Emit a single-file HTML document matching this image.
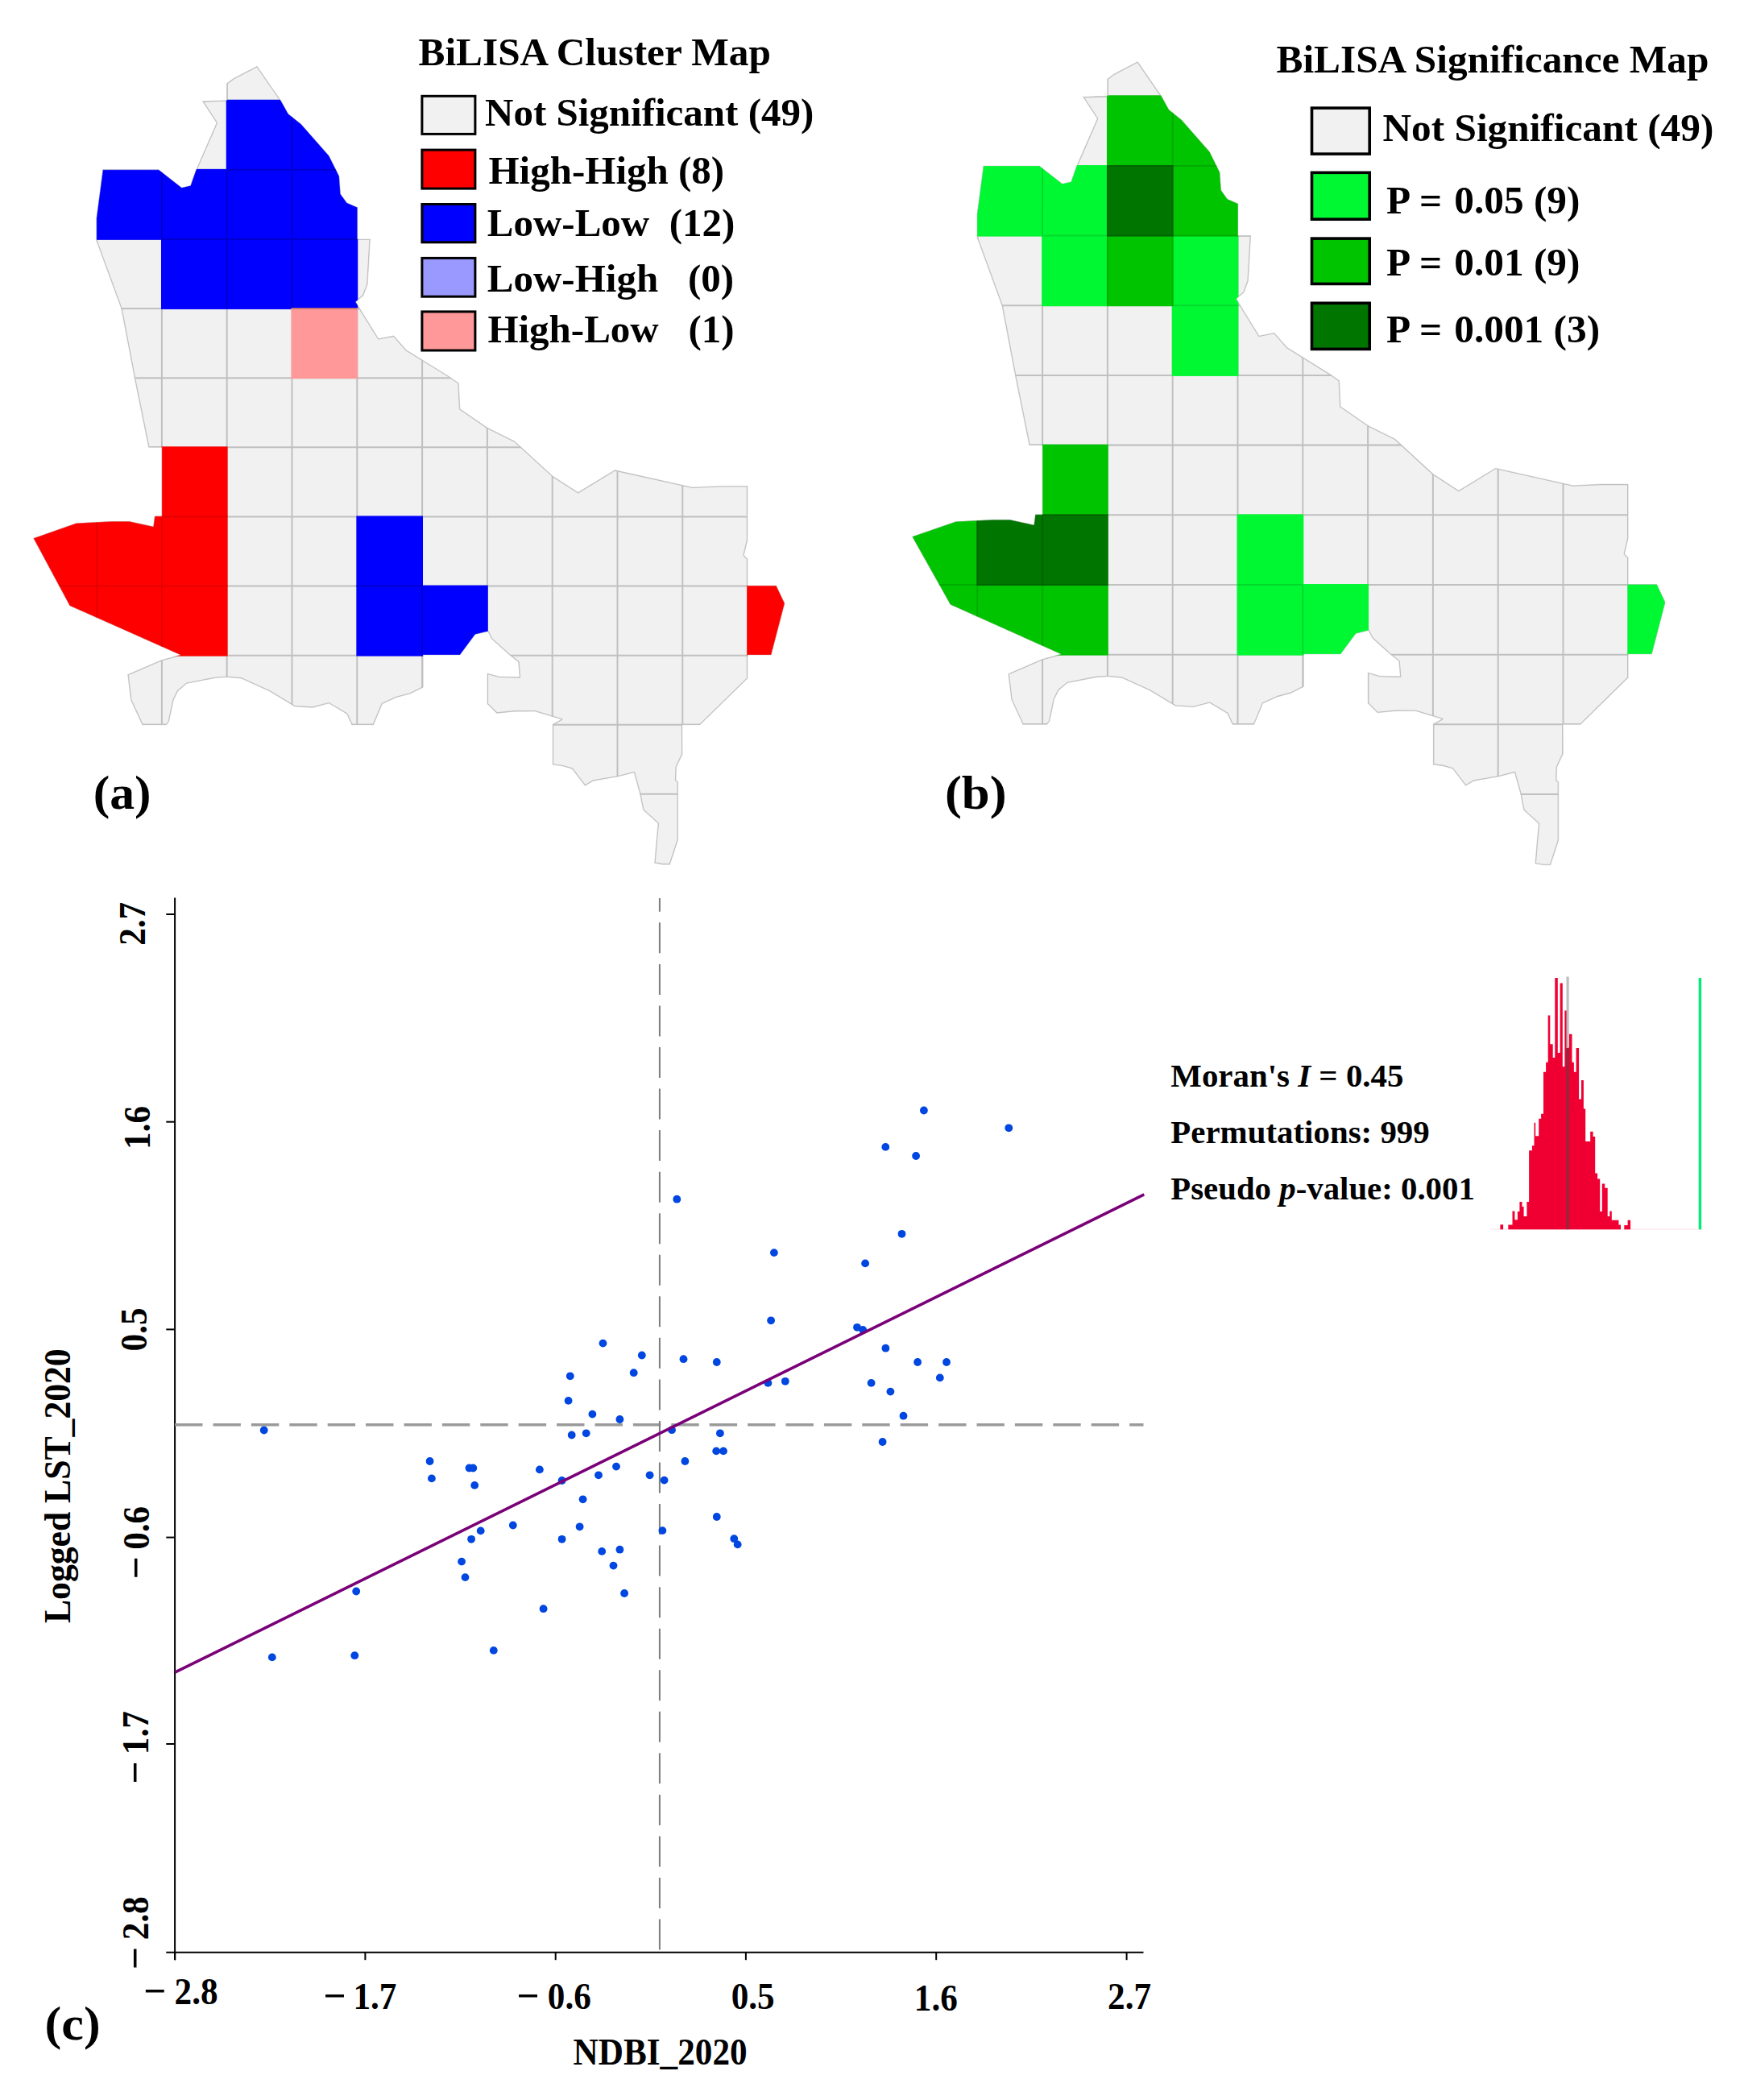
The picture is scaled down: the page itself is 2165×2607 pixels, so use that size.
<!DOCTYPE html>
<html lang="en">
<head>
<meta charset="utf-8">
<title>BiLISA cluster map, significance map and Moran scatter plot</title>
<style>
html,body{margin:0;padding:0;background:#fff;}
body{width:2165px;height:2607px;overflow:hidden;}
svg{display:block;}
svg text{font-family:"Liberation Serif","Times New Roman",Times,serif;font-weight:bold;fill:#000;}
</style>
</head>
<body>
<svg width="2165" height="2607" viewBox="0 0 2165 2607">
<defs><clipPath id="clipA"><path d="M319.1,82.2 L348.5,124.7 L357.9,141.5 L373.7,154.1 L408.4,193.5 L421.0,218.7 L422.6,240.8 L430.5,251.8 L443.7,257.5 L443.7,296.9 L459.5,296.9 L456.3,352.7 L451.0,366.9 L441.5,374.8 L469.9,420.5 L488.8,416.8 L504.6,434.7 L558.3,467.9 L569.4,475.7 L571.0,507.6 L605.0,531.0 L638.8,547.8 L686.1,591.0 L717.6,611.3 L763.3,583.6 L859.5,605.0 L894.2,603.4 L927.9,603.4 L927.9,670.3 L923.5,689.2 L927.9,693.9 L927.9,727.1 L963.6,727.1 L974.0,749.1 L957.3,813.1 L927.9,813.1 L927.9,842.2 L869.0,899.8 L846.9,899.8 L847.1,936.3 L839.6,952.3 L839.0,968.4 L841.6,970.4 L841.6,1042.7 L831.6,1073.2 L822.6,1073.2 L812.6,1071.4 L815.0,1042.7 L817.0,1022.2 L798.5,1005.5 L796.1,994.5 L794.5,985.5 L787.1,959.0 L767.4,964.0 L736.3,969.4 L726.3,975.4 L710.2,954.4 L698.7,951.0 L686.1,949.3 L686.1,899.2 L697.2,893.1 L664.0,883.1 L638.8,883.2 L616.7,885.4 L605.0,873.7 L605.0,835.9 L619.8,840.0 L645.1,840.6 L643.5,821.7 L632.5,813.1 L610.4,793.3 L605.6,783.8 L589.9,787.6 L571.0,813.1 L525.2,813.1 L525.2,853.2 L509.5,861.1 L492.0,865.8 L474.6,873.7 L463.6,899.8 L436.8,899.8 L430.5,886.3 L408.4,873.1 L387.9,878.4 L365.8,876.9 L334.3,857.9 L299.6,842.2 L281.6,840.6 L268.0,841.5 L231.8,848.5 L220.8,857.9 L215.4,869.0 L209.7,895.8 L206.6,899.8 L176.6,899.8 L162.4,869.0 L158.6,837.4 L200.3,819.5 L223.9,813.1 L86.6,751.9 L41.6,668.2 L94.7,649.6 L138.8,647.3 L160.6,647.3 L190.4,653.8 L192.1,640.8 L200.9,640.8 L200.9,555.2 L184.5,555.2 L167.1,469.4 L150.7,383.3 L119.8,299.1 L119.8,270.8 L127.7,210.8 L197.1,210.8 L225.5,232.9 L236.5,230.4 L242.8,212.4 L269.0,152.5 L251.3,125.7 L281.6,124.7 L281.6,103.6 L290.1,97.3Z"/></clipPath><clipPath id="clipB"><path d="M319.1,82.2 L348.5,124.7 L357.9,141.5 L373.7,154.1 L408.4,193.5 L421.0,218.7 L422.6,240.8 L430.5,251.8 L443.7,257.5 L443.7,296.9 L459.5,296.9 L456.3,352.7 L451.0,366.9 L441.5,374.8 L469.9,420.5 L488.8,416.8 L504.6,434.7 L558.3,467.9 L569.4,475.7 L571.0,507.6 L605.0,531.0 L638.8,547.8 L686.1,591.0 L717.6,611.3 L763.3,583.6 L859.5,605.0 L894.2,603.4 L927.9,603.4 L927.9,670.3 L923.5,689.2 L927.9,693.9 L927.9,727.1 L963.6,727.1 L974.0,749.1 L957.3,813.1 L927.9,813.1 L927.9,842.2 L869.0,899.8 L846.9,899.8 L847.1,936.3 L839.6,952.3 L839.0,968.4 L841.6,970.4 L841.6,1042.7 L831.6,1073.2 L822.6,1073.2 L812.6,1071.4 L815.0,1042.7 L817.0,1022.2 L798.5,1005.5 L796.1,994.5 L794.5,985.5 L787.1,959.0 L767.4,964.0 L736.3,969.4 L726.3,975.4 L710.2,954.4 L698.7,951.0 L686.1,949.3 L686.1,899.2 L697.2,893.1 L664.0,883.1 L638.8,883.2 L616.7,885.4 L605.0,873.7 L605.0,835.9 L619.8,840.0 L645.1,840.6 L643.5,821.7 L632.5,813.1 L610.4,793.3 L605.6,783.8 L589.9,787.6 L571.0,813.1 L525.2,813.1 L525.2,853.2 L509.5,861.1 L492.0,865.8 L474.6,873.7 L463.6,899.8 L436.8,899.8 L430.5,886.3 L408.4,873.1 L387.9,878.4 L365.8,876.9 L334.3,857.9 L299.6,842.2 L281.6,840.6 L268.0,841.5 L231.8,848.5 L220.8,857.9 L215.4,869.0 L209.7,895.8 L206.6,899.8 L176.6,899.8 L162.4,869.0 L158.6,837.4 L200.3,819.5 L223.9,813.1 L86.6,751.9 L39.3,668.2 L93.5,649.6 L138.8,647.3 L160.6,647.3 L190.4,653.8 L192.1,640.8 L200.9,640.8 L200.9,555.2 L184.5,555.2 L167.1,469.4 L150.7,383.3 L119.8,299.1 L119.8,270.8 L127.7,210.8 L197.1,210.8 L225.5,232.9 L236.5,230.4 L242.8,212.4 L269.0,152.5 L251.3,125.7 L281.6,124.7 L281.6,103.6 L290.1,97.3Z"/></clipPath></defs>
<rect width="2165" height="2607" fill="#fff"/>
<g transform="translate(0,0)">
<g clip-path="url(#clipA)">
<rect x="30" y="60" width="960" height="1030" fill="#f1f1f1"/>
<path d="M120.10,60V1090M200.90,60V1090M281.70,60V1090M362.50,60V1090M443.30,60V1090M524.10,60V1090M604.90,60V1090M685.70,60V1090M766.50,60V1090M847.30,60V1090M928.10,60V1090M30,124.67H990M30,210.79H990M30,296.91H990M30,383.03H990M30,469.15H990M30,555.27H990M30,641.39H990M30,727.51H990M30,813.63H990M30,899.75H990M30,985.87H990" fill="none" stroke="#c0c0c0" stroke-width="2.0"/>
<path d="M319.1,82.2 L348.5,124.7 L357.9,141.5 L373.7,154.1 L408.4,193.5 L421.0,218.7 L422.6,240.8 L430.5,251.8 L443.7,257.5 L443.7,296.9 L459.5,296.9 L456.3,352.7 L451.0,366.9 L441.5,374.8 L469.9,420.5 L488.8,416.8 L504.6,434.7 L558.3,467.9 L569.4,475.7 L571.0,507.6 L605.0,531.0 L638.8,547.8 L686.1,591.0 L717.6,611.3 L763.3,583.6 L859.5,605.0 L894.2,603.4 L927.9,603.4 L927.9,670.3 L923.5,689.2 L927.9,693.9 L927.9,727.1 L963.6,727.1 L974.0,749.1 L957.3,813.1 L927.9,813.1 L927.9,842.2 L869.0,899.8 L846.9,899.8 L847.1,936.3 L839.6,952.3 L839.0,968.4 L841.6,970.4 L841.6,1042.7 L831.6,1073.2 L822.6,1073.2 L812.6,1071.4 L815.0,1042.7 L817.0,1022.2 L798.5,1005.5 L796.1,994.5 L794.5,985.5 L787.1,959.0 L767.4,964.0 L736.3,969.4 L726.3,975.4 L710.2,954.4 L698.7,951.0 L686.1,949.3 L686.1,899.2 L697.2,893.1 L664.0,883.1 L638.8,883.2 L616.7,885.4 L605.0,873.7 L605.0,835.9 L619.8,840.0 L645.1,840.6 L643.5,821.7 L632.5,813.1 L610.4,793.3 L605.6,783.8 L589.9,787.6 L571.0,813.1 L525.2,813.1 L525.2,853.2 L509.5,861.1 L492.0,865.8 L474.6,873.7 L463.6,899.8 L436.8,899.8 L430.5,886.3 L408.4,873.1 L387.9,878.4 L365.8,876.9 L334.3,857.9 L299.6,842.2 L281.6,840.6 L268.0,841.5 L231.8,848.5 L220.8,857.9 L215.4,869.0 L209.7,895.8 L206.6,899.8 L176.6,899.8 L162.4,869.0 L158.6,837.4 L200.3,819.5 L223.9,813.1 L86.6,751.9 L41.6,668.2 L94.7,649.6 L138.8,647.3 L160.6,647.3 L190.4,653.8 L192.1,640.8 L200.9,640.8 L200.9,555.2 L184.5,555.2 L167.1,469.4 L150.7,383.3 L119.8,299.1 L119.8,270.8 L127.7,210.8 L197.1,210.8 L225.5,232.9 L236.5,230.4 L242.8,212.4 L269.0,152.5 L251.3,125.7 L281.6,124.7 L281.6,103.6 L290.1,97.3Z" fill="none" stroke="#c0c0c0" stroke-width="2.2" stroke-linejoin="round"/>
<rect x="280.80" y="123.77" width="82.60" height="87.92" fill="#0000ff"/><rect x="361.60" y="123.77" width="82.60" height="87.92" fill="#0000ff"/><rect x="119.20" y="209.89" width="82.60" height="87.92" fill="#0000ff"/><rect x="200.00" y="209.89" width="82.60" height="87.92" fill="#0000ff"/><rect x="280.80" y="209.89" width="82.60" height="87.92" fill="#0000ff"/><rect x="361.60" y="209.89" width="82.60" height="87.92" fill="#0000ff"/><rect x="200.00" y="296.01" width="82.60" height="87.92" fill="#0000ff"/><rect x="280.80" y="296.01" width="82.60" height="87.92" fill="#0000ff"/><rect x="361.60" y="296.01" width="82.60" height="87.92" fill="#0000ff"/><rect x="442.40" y="640.49" width="82.60" height="87.92" fill="#0000ff"/><rect x="442.40" y="726.61" width="82.60" height="87.92" fill="#0000ff"/><rect x="523.20" y="726.61" width="82.60" height="87.92" fill="#0000ff"/><rect x="361.60" y="382.13" width="82.60" height="87.92" fill="#ff9999"/><rect x="200.00" y="554.37" width="82.60" height="87.92" fill="#ff0000"/><rect x="38.40" y="640.49" width="82.60" height="87.92" fill="#ff0000"/><rect x="119.20" y="640.49" width="82.60" height="87.92" fill="#ff0000"/><rect x="200.00" y="640.49" width="82.60" height="87.92" fill="#ff0000"/><rect x="38.40" y="726.61" width="82.60" height="87.92" fill="#ff0000"/><rect x="119.20" y="726.61" width="82.60" height="87.92" fill="#ff0000"/><rect x="200.00" y="726.61" width="82.60" height="87.92" fill="#ff0000"/><rect x="927.20" y="726.61" width="82.60" height="87.92" fill="#ff0000"/>
<path d="M362.50,124.67V210.79M281.70,210.79H362.50M362.50,210.79H443.30M200.90,210.79V296.91M281.70,210.79V296.91M200.90,296.91H281.70M362.50,210.79V296.91M281.70,296.91H362.50M362.50,296.91H443.30M281.70,296.91V383.03M362.50,296.91V383.03M362.50,383.03H443.30M443.30,727.51H524.10M524.10,727.51V813.63" fill="none" stroke="#000" stroke-opacity="0.2" stroke-width="2"/><path d="M200.90,641.39H281.70M120.10,641.39V727.51M39.30,727.51H120.10M200.90,641.39V727.51M120.10,727.51H200.90M200.90,727.51H281.70M120.10,727.51V813.63M200.90,727.51V813.63" fill="none" stroke="#000" stroke-opacity="0.1" stroke-width="2"/>
</g>
<path d="M319.1,82.2 L348.5,124.7 L357.9,141.5 L373.7,154.1 L408.4,193.5 L421.0,218.7 L422.6,240.8 L430.5,251.8 L443.7,257.5 L443.7,296.9 L459.5,296.9 L456.3,352.7 L451.0,366.9 L441.5,374.8 L469.9,420.5 L488.8,416.8 L504.6,434.7 L558.3,467.9 L569.4,475.7 L571.0,507.6 L605.0,531.0 L638.8,547.8 L686.1,591.0 L717.6,611.3 L763.3,583.6 L859.5,605.0 L894.2,603.4 L927.9,603.4 L927.9,670.3 L923.5,689.2 L927.9,693.9 L927.9,727.1 L963.6,727.1 L974.0,749.1 L957.3,813.1 L927.9,813.1 L927.9,842.2 L869.0,899.8 L846.9,899.8 L847.1,936.3 L839.6,952.3 L839.0,968.4 L841.6,970.4 L841.6,1042.7 L831.6,1073.2 L822.6,1073.2 L812.6,1071.4 L815.0,1042.7 L817.0,1022.2 L798.5,1005.5 L796.1,994.5 L794.5,985.5 L787.1,959.0 L767.4,964.0 L736.3,969.4 L726.3,975.4 L710.2,954.4 L698.7,951.0 L686.1,949.3 L686.1,899.2 L697.2,893.1 L664.0,883.1 L638.8,883.2 L616.7,885.4 L605.0,873.7 L605.0,835.9 L619.8,840.0 L645.1,840.6 L643.5,821.7 L632.5,813.1 L610.4,793.3 L605.6,783.8 L589.9,787.6 L571.0,813.1 L525.2,813.1 L525.2,853.2 L509.5,861.1 L492.0,865.8 L474.6,873.7 L463.6,899.8 L436.8,899.8 L430.5,886.3 L408.4,873.1 L387.9,878.4 L365.8,876.9 L334.3,857.9 L299.6,842.2 L281.6,840.6 L268.0,841.5 L231.8,848.5 L220.8,857.9 L215.4,869.0 L209.7,895.8 L206.6,899.8 L176.6,899.8 L162.4,869.0 L158.6,837.4 L200.3,819.5 L223.9,813.1 L86.6,751.9 L41.6,668.2 L94.7,649.6 L138.8,647.3 L160.6,647.3 L190.4,653.8 L192.1,640.8 L200.9,640.8 L200.9,555.2 L184.5,555.2 L167.1,469.4 L150.7,383.3 L119.8,299.1 L119.8,270.8 L127.7,210.8 L197.1,210.8 L225.5,232.9 L236.5,230.4 L242.8,212.4 L269.0,152.5 L251.3,125.7 L281.6,124.7 L281.6,103.6 L290.1,97.3Z" fill="none" stroke="#c0c0c0" stroke-opacity="0.45" stroke-width="0.9" stroke-linejoin="round"/>
</g>
<g transform="translate(1093.2,-6.2) scale(1,1.0064)">
<g clip-path="url(#clipB)">
<rect x="30" y="60" width="960" height="1030" fill="#f1f1f1"/>
<path d="M120.10,60V1090M200.90,60V1090M281.70,60V1090M362.50,60V1090M443.30,60V1090M524.10,60V1090M604.90,60V1090M685.70,60V1090M766.50,60V1090M847.30,60V1090M928.10,60V1090M30,124.67H990M30,210.79H990M30,296.91H990M30,383.03H990M30,469.15H990M30,555.27H990M30,641.39H990M30,727.51H990M30,813.63H990M30,899.75H990M30,985.87H990" fill="none" stroke="#c0c0c0" stroke-width="2.0"/>
<path d="M319.1,82.2 L348.5,124.7 L357.9,141.5 L373.7,154.1 L408.4,193.5 L421.0,218.7 L422.6,240.8 L430.5,251.8 L443.7,257.5 L443.7,296.9 L459.5,296.9 L456.3,352.7 L451.0,366.9 L441.5,374.8 L469.9,420.5 L488.8,416.8 L504.6,434.7 L558.3,467.9 L569.4,475.7 L571.0,507.6 L605.0,531.0 L638.8,547.8 L686.1,591.0 L717.6,611.3 L763.3,583.6 L859.5,605.0 L894.2,603.4 L927.9,603.4 L927.9,670.3 L923.5,689.2 L927.9,693.9 L927.9,727.1 L963.6,727.1 L974.0,749.1 L957.3,813.1 L927.9,813.1 L927.9,842.2 L869.0,899.8 L846.9,899.8 L847.1,936.3 L839.6,952.3 L839.0,968.4 L841.6,970.4 L841.6,1042.7 L831.6,1073.2 L822.6,1073.2 L812.6,1071.4 L815.0,1042.7 L817.0,1022.2 L798.5,1005.5 L796.1,994.5 L794.5,985.5 L787.1,959.0 L767.4,964.0 L736.3,969.4 L726.3,975.4 L710.2,954.4 L698.7,951.0 L686.1,949.3 L686.1,899.2 L697.2,893.1 L664.0,883.1 L638.8,883.2 L616.7,885.4 L605.0,873.7 L605.0,835.9 L619.8,840.0 L645.1,840.6 L643.5,821.7 L632.5,813.1 L610.4,793.3 L605.6,783.8 L589.9,787.6 L571.0,813.1 L525.2,813.1 L525.2,853.2 L509.5,861.1 L492.0,865.8 L474.6,873.7 L463.6,899.8 L436.8,899.8 L430.5,886.3 L408.4,873.1 L387.9,878.4 L365.8,876.9 L334.3,857.9 L299.6,842.2 L281.6,840.6 L268.0,841.5 L231.8,848.5 L220.8,857.9 L215.4,869.0 L209.7,895.8 L206.6,899.8 L176.6,899.8 L162.4,869.0 L158.6,837.4 L200.3,819.5 L223.9,813.1 L86.6,751.9 L39.3,668.2 L93.5,649.6 L138.8,647.3 L160.6,647.3 L190.4,653.8 L192.1,640.8 L200.9,640.8 L200.9,555.2 L184.5,555.2 L167.1,469.4 L150.7,383.3 L119.8,299.1 L119.8,270.8 L127.7,210.8 L197.1,210.8 L225.5,232.9 L236.5,230.4 L242.8,212.4 L269.0,152.5 L251.3,125.7 L281.6,124.7 L281.6,103.6 L290.1,97.3Z" fill="none" stroke="#c0c0c0" stroke-width="2.2" stroke-linejoin="round"/>
<rect x="119.20" y="209.89" width="82.60" height="87.92" fill="#00f833"/><rect x="200.00" y="209.89" width="82.60" height="87.92" fill="#00f833"/><rect x="200.00" y="296.01" width="82.60" height="87.92" fill="#00f833"/><rect x="361.60" y="296.01" width="82.60" height="87.92" fill="#00f833"/><rect x="361.60" y="382.13" width="82.60" height="87.92" fill="#00f833"/><rect x="442.40" y="640.49" width="82.60" height="87.92" fill="#00f833"/><rect x="442.40" y="726.61" width="82.60" height="87.92" fill="#00f833"/><rect x="523.20" y="726.61" width="82.60" height="87.92" fill="#00f833"/><rect x="927.20" y="726.61" width="82.60" height="87.92" fill="#00f833"/><rect x="280.80" y="123.77" width="82.60" height="87.92" fill="#00c400"/><rect x="361.60" y="123.77" width="82.60" height="87.92" fill="#00c400"/><rect x="361.60" y="209.89" width="82.60" height="87.92" fill="#00c400"/><rect x="280.80" y="296.01" width="82.60" height="87.92" fill="#00c400"/><rect x="200.00" y="554.37" width="82.60" height="87.92" fill="#00c400"/><rect x="38.40" y="640.49" width="82.60" height="87.92" fill="#00c400"/><rect x="38.40" y="726.61" width="82.60" height="87.92" fill="#00c400"/><rect x="119.20" y="726.61" width="82.60" height="87.92" fill="#00c400"/><rect x="200.00" y="726.61" width="82.60" height="87.92" fill="#00c400"/><rect x="280.80" y="209.89" width="82.60" height="87.92" fill="#007500"/><rect x="119.20" y="640.49" width="82.60" height="87.92" fill="#007500"/><rect x="200.00" y="640.49" width="82.60" height="87.92" fill="#007500"/>
<path d="M362.50,124.67V210.79M362.50,210.79H443.30M200.90,210.79V296.91M200.90,296.91H281.70M362.50,296.91H443.30M281.70,296.91V383.03M362.50,296.91V383.03M362.50,383.03H443.30M39.30,727.51H120.10M443.30,727.51H524.10M120.10,727.51V813.63M200.90,727.51V813.63M524.10,727.51V813.63" fill="none" stroke="#000" stroke-opacity="0.12" stroke-width="2"/><path d="M281.70,210.79H362.50M281.70,210.79V296.91M362.50,210.79V296.91M281.70,296.91H362.50M200.90,641.39H281.70M120.10,641.39V727.51M200.90,641.39V727.51M120.10,727.51H200.90M200.90,727.51H281.70" fill="none" stroke="#000" stroke-opacity="0.14" stroke-width="2"/>
</g>
<path d="M319.1,82.2 L348.5,124.7 L357.9,141.5 L373.7,154.1 L408.4,193.5 L421.0,218.7 L422.6,240.8 L430.5,251.8 L443.7,257.5 L443.7,296.9 L459.5,296.9 L456.3,352.7 L451.0,366.9 L441.5,374.8 L469.9,420.5 L488.8,416.8 L504.6,434.7 L558.3,467.9 L569.4,475.7 L571.0,507.6 L605.0,531.0 L638.8,547.8 L686.1,591.0 L717.6,611.3 L763.3,583.6 L859.5,605.0 L894.2,603.4 L927.9,603.4 L927.9,670.3 L923.5,689.2 L927.9,693.9 L927.9,727.1 L963.6,727.1 L974.0,749.1 L957.3,813.1 L927.9,813.1 L927.9,842.2 L869.0,899.8 L846.9,899.8 L847.1,936.3 L839.6,952.3 L839.0,968.4 L841.6,970.4 L841.6,1042.7 L831.6,1073.2 L822.6,1073.2 L812.6,1071.4 L815.0,1042.7 L817.0,1022.2 L798.5,1005.5 L796.1,994.5 L794.5,985.5 L787.1,959.0 L767.4,964.0 L736.3,969.4 L726.3,975.4 L710.2,954.4 L698.7,951.0 L686.1,949.3 L686.1,899.2 L697.2,893.1 L664.0,883.1 L638.8,883.2 L616.7,885.4 L605.0,873.7 L605.0,835.9 L619.8,840.0 L645.1,840.6 L643.5,821.7 L632.5,813.1 L610.4,793.3 L605.6,783.8 L589.9,787.6 L571.0,813.1 L525.2,813.1 L525.2,853.2 L509.5,861.1 L492.0,865.8 L474.6,873.7 L463.6,899.8 L436.8,899.8 L430.5,886.3 L408.4,873.1 L387.9,878.4 L365.8,876.9 L334.3,857.9 L299.6,842.2 L281.6,840.6 L268.0,841.5 L231.8,848.5 L220.8,857.9 L215.4,869.0 L209.7,895.8 L206.6,899.8 L176.6,899.8 L162.4,869.0 L158.6,837.4 L200.3,819.5 L223.9,813.1 L86.6,751.9 L39.3,668.2 L93.5,649.6 L138.8,647.3 L160.6,647.3 L190.4,653.8 L192.1,640.8 L200.9,640.8 L200.9,555.2 L184.5,555.2 L167.1,469.4 L150.7,383.3 L119.8,299.1 L119.8,270.8 L127.7,210.8 L197.1,210.8 L225.5,232.9 L236.5,230.4 L242.8,212.4 L269.0,152.5 L251.3,125.7 L281.6,124.7 L281.6,103.6 L290.1,97.3Z" fill="none" stroke="#c0c0c0" stroke-opacity="0.45" stroke-width="0.9" stroke-linejoin="round"/>
</g>
<g font-size="49.0">
<text x="519.5" y="80.6" font-size="49.3">BiLISA Cluster Map</text>
<rect x="523.9" y="119.3" width="66" height="47.1" fill="#f1f1f1" stroke="#000" stroke-width="3.0"/>
<rect x="523.9" y="186.1" width="66" height="48.0" fill="#ff0000" stroke="#000" stroke-width="3.0"/>
<rect x="523.9" y="253.5" width="66" height="47.3" fill="#0000ff" stroke="#000" stroke-width="3.0"/>
<rect x="523.9" y="320.4" width="66" height="47.8" fill="#9999ff" stroke="#000" stroke-width="3.0"/>
<rect x="523.9" y="386.9" width="66" height="48.1" fill="#ff9999" stroke="#000" stroke-width="3.0"/>
<text x="602" y="155.6">Not Significant (49)</text>
<text x="606.5" y="228.2">High-High (8)</text>
<text x="604.8" y="292.8" xml:space="preserve">Low-Low  (12)</text>
<text x="604.8" y="362.2" xml:space="preserve">Low-High   (0)</text>
<text x="605.4" y="425.3" xml:space="preserve">High-Low   (1)</text>
</g>
<g font-size="49.3">
<text x="1584.5" y="90">BiLISA Significance Map</text>
<rect x="1628.5" y="134.1" width="71.7" height="57.0" fill="#f1f1f1" stroke="#000" stroke-width="3.6"/>
<rect x="1628.5" y="214.3" width="71.7" height="57.9" fill="#00f833" stroke="#000" stroke-width="3.6"/>
<rect x="1628.5" y="296.1" width="71.7" height="56.3" fill="#00c400" stroke="#000" stroke-width="3.6"/>
<rect x="1628.5" y="376.3" width="71.7" height="57.1" fill="#007500" stroke="#000" stroke-width="3.6"/>
<text x="1716.5" y="174.6">Not Significant (49)</text>
<text x="1721" y="264.5" xml:space="preserve">P <tspan dx="1.4">=</tspan><tspan dx="2.8"> 0.05 (9)</tspan></text>
<text x="1721" y="342" xml:space="preserve">P <tspan dx="1.4">=</tspan><tspan dx="2.8"> 0.01 (9)</tspan></text>
<text x="1721" y="425" xml:space="preserve">P <tspan dx="1.4">=</tspan><tspan dx="2.8"> 0.001 (3)</tspan></text>
</g>
<g>
<g stroke="#000" stroke-width="2" fill="none">
<path d="M217.1,1114.5V2433.2"/>
<path d="M206.3,2423.7H1419.5"/>
<path d="M217.2,2423.7V2433.2"/><path d="M453.4,2423.7V2433.2"/><path d="M689.7,2423.7V2433.2"/><path d="M925.9,2423.7V2433.2"/><path d="M1162.2,2423.7V2433.2"/><path d="M1398.6,2423.7V2433.2"/><path d="M217.1,1135.0H206.3"/><path d="M217.1,1392.7H206.3"/><path d="M217.1,1650.4H206.3"/><path d="M217.1,1908.6H206.3"/><path d="M217.1,2165.0H206.3"/>
</g>
<path d="M217.1,1768.8H1419.5" stroke="#9a9a9a" stroke-width="3.4" stroke-dasharray="34.4 13" fill="none"/>
<path d="M818.9,1115V2423.7" stroke="#7d7d7d" stroke-width="2" stroke-dasharray="38 13.55" stroke-dashoffset="21.2" fill="none"/>
<g fill="#0046e0"><circle cx="327.7" cy="1775.5" r="4.9"/><circle cx="533.6" cy="1814.0" r="4.9"/><circle cx="535.9" cy="1835.4" r="4.9"/><circle cx="582.5" cy="1822.5" r="4.9"/><circle cx="587.3" cy="1822.5" r="4.9"/><circle cx="589.2" cy="1843.9" r="4.9"/><circle cx="669.9" cy="1824.4" r="4.9"/><circle cx="697.6" cy="1838.0" r="4.9"/><circle cx="743.0" cy="1831.3" r="4.9"/><circle cx="707.8" cy="1708.3" r="4.9"/><circle cx="705.6" cy="1738.9" r="4.9"/><circle cx="735.4" cy="1755.6" r="4.9"/><circle cx="709.7" cy="1781.5" r="4.9"/><circle cx="727.7" cy="1779.3" r="4.9"/><circle cx="748.5" cy="1667.6" r="4.9"/><circle cx="723.6" cy="1861.3" r="4.9"/><circle cx="719.6" cy="1895.3" r="4.9"/><circle cx="636.8" cy="1893.5" r="4.9"/><circle cx="596.7" cy="1900.4" r="4.9"/><circle cx="585.1" cy="1910.8" r="4.9"/><circle cx="697.6" cy="1910.8" r="4.9"/><circle cx="747.2" cy="1925.9" r="4.9"/><circle cx="573.1" cy="1938.6" r="4.9"/><circle cx="577.5" cy="1958.1" r="4.9"/><circle cx="442.2" cy="1975.5" r="4.9"/><circle cx="674.6" cy="1997.2" r="4.9"/><circle cx="612.8" cy="2048.9" r="4.9"/><circle cx="440.3" cy="2055.2" r="4.9"/><circle cx="337.8" cy="2057.4" r="4.9"/><circle cx="796.8" cy="1682.5" r="4.9"/><circle cx="786.7" cy="1704.2" r="4.9"/><circle cx="769.4" cy="1762.0" r="4.9"/><circle cx="765.0" cy="1820.6" r="4.9"/><circle cx="806.6" cy="1831.3" r="4.9"/><circle cx="824.6" cy="1837.6" r="4.9"/><circle cx="769.4" cy="1923.7" r="4.9"/><circle cx="761.5" cy="1943.6" r="4.9"/><circle cx="775.1" cy="1978.0" r="4.9"/><circle cx="822.4" cy="1900.1" r="4.9"/><circle cx="834.0" cy="1775.2" r="4.9"/><circle cx="848.5" cy="1687.2" r="4.9"/><circle cx="889.8" cy="1691.0" r="4.9"/><circle cx="893.9" cy="1779.3" r="4.9"/><circle cx="889.2" cy="1801.4" r="4.9"/><circle cx="898.0" cy="1801.4" r="4.9"/><circle cx="850.4" cy="1814.0" r="4.9"/><circle cx="889.8" cy="1883.0" r="4.9"/><circle cx="911.3" cy="1910.2" r="4.9"/><circle cx="915.7" cy="1917.4" r="4.9"/><circle cx="953.4" cy="1716.9" r="4.9"/><circle cx="974.8" cy="1714.8" r="4.9"/><circle cx="1064.0" cy="1647.8" r="4.9"/><circle cx="1071.2" cy="1651.0" r="4.9"/><circle cx="1099.4" cy="1673.7" r="4.9"/><circle cx="1081.6" cy="1716.9" r="4.9"/><circle cx="1105.4" cy="1727.6" r="4.9"/><circle cx="1121.5" cy="1757.7" r="4.9"/><circle cx="1095.6" cy="1790.0" r="4.9"/><circle cx="1139.1" cy="1691.0" r="4.9"/><circle cx="1175.0" cy="1691.0" r="4.9"/><circle cx="1166.8" cy="1710.4" r="4.9"/><circle cx="1146.9" cy="1378.5" r="4.9"/><circle cx="1252.3" cy="1400.3" r="4.9"/><circle cx="1099.3" cy="1423.9" r="4.9"/><circle cx="1137.1" cy="1435.0" r="4.9"/><circle cx="1119.5" cy="1531.8" r="4.9"/><circle cx="960.9" cy="1555.1" r="4.9"/><circle cx="1074.1" cy="1568.4" r="4.9"/><circle cx="957.1" cy="1639.3" r="4.9"/><circle cx="840.3" cy="1488.7" r="4.9"/></g>
<path d="M217.1,2076.2L1420.3,1482.9" stroke="#7a0078" stroke-width="3.6" fill="none"/>
<g font-size="45.6">
<text transform="translate(270.6,2487.6) scale(0.948,1)" text-anchor="end" xml:space="preserve"><tspan font-weight="normal" font-size="49.5" stroke="#000" stroke-width="1.1">−</tspan> 2.8</text>
<text transform="translate(492.4,2494.0) scale(0.948,1)" text-anchor="end" xml:space="preserve"><tspan font-weight="normal" font-size="49.5" stroke="#000" stroke-width="1.1">−</tspan><tspan dx="-1.6"> </tspan>1.7</text>
<text transform="translate(733.8,2494.0) scale(0.948,1)" text-anchor="end" xml:space="preserve"><tspan font-weight="normal" font-size="49.5" stroke="#000" stroke-width="1.1">−</tspan> 0.6</text>
<text transform="translate(961.7,2494.0) scale(0.948,1)" text-anchor="end" xml:space="preserve">0.5</text>
<text transform="translate(1188.8,2495.8) scale(0.948,1)" text-anchor="end" xml:space="preserve">1.6</text>
<text transform="translate(1429.1,2494.3) scale(0.948,1)" text-anchor="end" xml:space="preserve">2.7</text>
<text transform="translate(711.5,2563) scale(0.948,1)" text-anchor="start" xml:space="preserve">NDBI_2020</text>
<text transform="translate(180.3,1173.8) rotate(-90) scale(0.948,1)" text-anchor="start" xml:space="preserve">2.7</text>
<text transform="translate(185.8,1427.0) rotate(-90) scale(0.948,1)" text-anchor="start" xml:space="preserve">1.6</text>
<text transform="translate(182.0,1677.5) rotate(-90) scale(0.948,1)" text-anchor="start" xml:space="preserve">0.5</text>
<text transform="translate(185.0,1959.3) rotate(-90) scale(0.948,1)" text-anchor="start" xml:space="preserve"><tspan font-weight="normal" font-size="49.5" stroke="#000" stroke-width="1.1">−</tspan><tspan dx="-1.9"> </tspan>0.6</text>
<text transform="translate(184.2,2213.6) rotate(-90) scale(0.948,1)" text-anchor="start" xml:space="preserve"><tspan font-weight="normal" font-size="49.5" stroke="#000" stroke-width="1.1">−</tspan><tspan dx="-1.9"> </tspan>1.7</text>
<text transform="translate(183.6,2444.0) rotate(-90) scale(0.948,1)" text-anchor="start" xml:space="preserve"><tspan font-weight="normal" font-size="49.5" stroke="#000" stroke-width="1.1">−</tspan><tspan dx="-1.7"> </tspan>2.8</text>
<text transform="translate(86.9,2015.0) rotate(-90) scale(0.957,1)">Logged LST_2020</text>
</g>
</g>
<g>
<path d="M1851,1526.2H2114" stroke="#ffe9f0" stroke-width="1.6"/>
<path d="M1862.4,1526.2V1520.3H1866.1V1526.2ZM1872.3,1526.2V1520.6H1877.5V1526.2ZM1877.5,1526.2V1503.4H1880.4V1526.2ZM1880.4,1526.2V1514.3H1883.9V1526.2ZM1883.9,1526.2V1503.9H1886.4V1526.2ZM1886.4,1526.2V1491.9H1889.5V1526.2ZM1889.5,1526.2V1497.9H1891.6V1526.2ZM1891.6,1526.2V1510.0H1895.4V1526.2ZM1895.4,1526.2V1491.9H1898.1V1526.2ZM1898.1,1526.2V1428.2H1901.9V1526.2ZM1901.9,1526.2V1422.2H1904.5V1526.2ZM1904.5,1526.2V1393.8H1906.2V1526.2ZM1906.2,1526.2V1410.2H1910.2V1526.2ZM1910.2,1526.2V1388.7H1913.1V1526.2ZM1913.1,1526.2V1382.7H1916.0V1526.2ZM1916.0,1526.2V1330.7H1919.1V1526.2ZM1919.1,1526.2V1318.7H1921.7V1526.2ZM1921.7,1526.2V1260.5H1924.3V1526.2ZM1924.3,1526.2V1296.3H1927.7V1526.2ZM1927.7,1526.2V1313.0H1930.3V1526.2ZM1930.3,1526.2V1214.1H1933.8V1526.2ZM1933.8,1526.2V1307.0H1936.7V1526.2ZM1936.7,1526.2V1220.6H1939.8V1526.2ZM1939.8,1526.2V1324.2H1942.4V1526.2ZM1942.4,1526.2V1254.5H1945.3V1526.2ZM1945.3,1526.2V1300.1H1948.0V1526.2ZM1948.0,1526.2V1283.8H1951.5V1526.2ZM1951.5,1526.2V1318.7H1953.9V1526.2ZM1953.9,1526.2V1330.7H1956.6V1526.2ZM1956.6,1526.2V1301.0H1960.1V1526.2ZM1960.1,1526.2V1364.6H1963.0V1526.2ZM1963.0,1526.2V1341.0H1965.9V1526.2ZM1965.9,1526.2V1376.6H1968.2V1526.2ZM1968.2,1526.2V1417.1H1974.2V1526.2ZM1974.2,1526.2V1404.7H1977.6V1526.2ZM1977.6,1526.2V1411.0H1980.2V1526.2ZM1980.2,1526.2V1456.6H1983.1V1526.2ZM1983.1,1526.2V1463.5H1986.2V1526.2ZM1986.2,1526.2V1503.9H1988.8V1526.2ZM1988.8,1526.2V1469.5H1992.2V1526.2ZM1992.2,1526.2V1474.7H1995.7V1526.2ZM1995.7,1526.2V1510.0H1998.3V1526.2ZM1998.3,1526.2V1503.4H2000.8V1526.2ZM2000.8,1526.2V1514.8H2009.4V1526.2ZM2009.4,1526.2V1520.6H2012.0V1526.2ZM2016.3,1526.2V1521.1H2020.6V1526.2ZM2020.6,1526.2V1514.8H2024.1V1526.2Z" fill="#f00032"/>
<path d="M1946.1,1212.5V1301" stroke="#bdbdbd" stroke-width="3.2"/>
<path d="M1946.1,1301V1526.2" stroke="#8c2a40" stroke-width="3.2"/>
<path d="M2110.4,1214V1526.2" stroke="#00eb78" stroke-width="3.4"/>
<g font-size="39">
<text transform="translate(1453.3,1348.6) scale(1.049,1)">Moran's <tspan font-style="italic">I</tspan> = 0.45</text>
<text transform="translate(1453.3,1419) scale(1.049,1)">Permutations: 999</text>
<text transform="translate(1453.3,1488.9) scale(1.047,1)">Pseudo <tspan font-style="italic">p</tspan>-value: 0.001</text>
</g>
</g>
<g font-size="58.4">
<text transform="translate(115.7,1004.0) scale(1.055,1)">(a)</text>
<text transform="translate(1172.9,1004.0) scale(1.075,1)">(b)</text>
<text transform="translate(55.6,2531.9) scale(1.065,1)">(c)</text>
</g>
</svg>
</body>
</html>
